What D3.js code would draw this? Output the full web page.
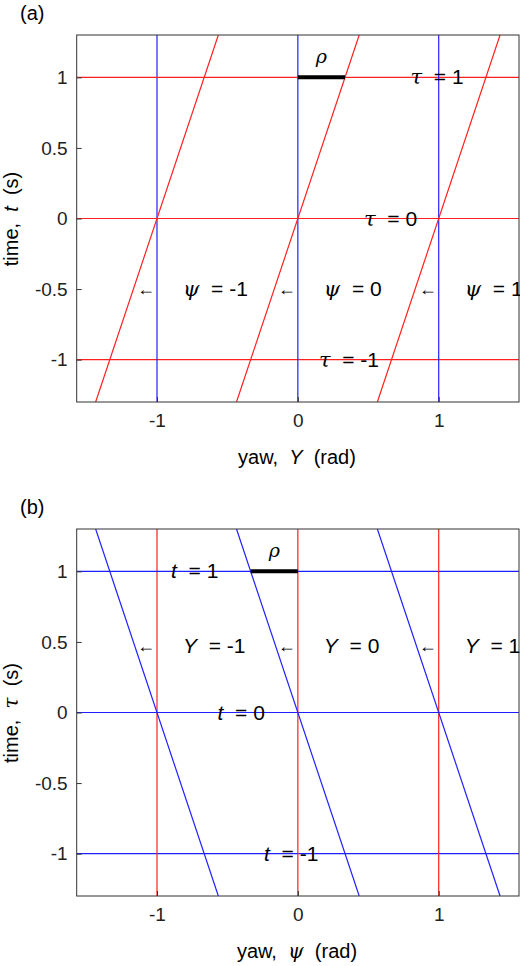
<!DOCTYPE html><html><head><meta charset="utf-8"><script src="https://cdn.jsdelivr.net/npm/d3@7"></script>
<style>body{margin:0;background:#fff}text{font-family:Arial,"Liberation Sans",sans-serif;white-space:pre}.g{font-family:"DejaVu Serif","Liberation Serif",serif;font-style:italic}</style></head><body>
<svg id="c" width="520" height="966"></svg>
<script>
const xTicks=[-1,0,1], yTicks=[-1,-0.5,0,0.5,1];
const gridVals=[-1,0,1];
const rho=0.335;
const xDomain=[-1.57,1.57], yDomain=[-1.3,1.3];
const svg=d3.select("#c");
function panel(oy,label,horizCol,vertCol,slantSign,xl,yl,texts,rhoBar){
  const x=d3.scaleLinear().domain(xDomain).range([76.7,519]);
  const y=d3.scaleLinear().domain(yDomain).range([oy+402,oy+35]);
  const g=svg.append("g");
  const cp="clip"+oy;
  g.append("clipPath").attr("id",cp).append("rect").attr("x",76.7).attr("y",oy+35).attr("width",442.3).attr("height",367);
  const p=g.append("g").attr("clip-path",`url(#${cp})`);
  gridVals.forEach(v=>{
    p.append("line").attr("x1",x(xDomain[0])).attr("x2",x(xDomain[1])).attr("y1",y(v)).attr("y2",y(v)).attr("stroke",horizCol).attr("stroke-width",1.2);
    p.append("line").attr("x1",x(v)).attr("x2",x(v)).attr("y1",y(yDomain[0])).attr("y2",y(yDomain[1])).attr("stroke",vertCol).attr("stroke-width",1.2);
    p.append("line").attr("x1",x(v+slantSign*rho*yDomain[0])).attr("x2",x(v+slantSign*rho*yDomain[1])).attr("y1",y(yDomain[0])).attr("y2",y(yDomain[1])).attr("stroke",horizCol).attr("stroke-width",1.2);
  });
  p.append("line").attr("x1",x(rhoBar[0])).attr("x2",x(rhoBar[1])).attr("y1",y(1)).attr("y2",y(1)).attr("stroke","#000").attr("stroke-width",4);
  g.append("text").attr("class","g").attr("x",x((rhoBar[0]+rhoBar[1])/2)).attr("y",y(1)-14).attr("text-anchor","middle").attr("font-size",19).text("ρ");
  g.append("rect").attr("x",76.7).attr("y",oy+35).attr("width",442.3).attr("height",367).attr("fill","none").attr("stroke","#333");
  const xa=g.append("g").attr("transform",`translate(0,${oy+402})`).call(d3.axisBottom(x).tickValues(xTicks).tickSize(-5).tickPadding(12).tickFormat(d=>String(d)));
  const ya=g.append("g").attr("transform",`translate(76.7,0)`).call(d3.axisLeft(y).tickValues(yTicks).tickSize(-5).tickPadding(9).tickFormat(d=>String(d)));
  [xa,ya].forEach(a=>{a.select(".domain").remove();a.selectAll("text").attr("font-size",19).attr("fill","#222").attr("font-family","Arial,'Liberation Sans',sans-serif");a.selectAll("line").attr("stroke","#333");});
  g.append("text").attr("x",20).attr("y",oy+20).attr("font-size",20).text(label);
  const xt=g.append("text").attr("x",297).attr("y",oy+464).attr("text-anchor","middle").attr("font-size",20);
  xt.append("tspan").text("yaw,  ");xt.append("tspan").attr("class",xl.cls).text(xl.sym);xt.append("tspan").text("  (rad)");
  const yt=g.append("text").attr("transform",`translate(18,${oy+219}) rotate(-90)`).attr("text-anchor","middle").attr("font-size",20);
  yt.append("tspan").text("time,  ");yt.append("tspan").attr("class",yl.cls).text(yl.sym);yt.append("tspan").text("  (s)");
  texts.forEach(t=>{
    if(t.arrow) g.append("text").attr("x",x(t.x)-20).attr("y",y(t.y)+6).attr("font-size",18).attr("font-family","DejaVu Sans,sans-serif").text("←");
    const tx=g.append("text").attr("x",x(t.x)+(t.arrow?26:0)).attr("y",y(t.y)+7).attr("font-size",21);
    tx.append("tspan").attr("class",t.cls).text(t.sym);
    tx.append("tspan").text("  = "+t.v);
  });
}
const aTexts=[
 {x:0.8,y:1,sym:"τ",cls:"g",v:"1"},{x:0.47,y:0,sym:"τ",cls:"g",v:"0"},{x:0.15,y:-1,sym:"τ",cls:"g",v:"-1"},
 {x:-1,y:-0.5,sym:"ψ",cls:"g",v:"-1",arrow:1},{x:0,y:-0.5,sym:"ψ",cls:"g",v:"0",arrow:1},{x:1,y:-0.5,sym:"ψ",cls:"g",v:"1",arrow:1}];
const bTexts=[
 {x:-0.9,y:1,sym:"t",cls:"it",v:"1"},{x:-0.57,y:0,sym:"t",cls:"it",v:"0"},{x:-0.24,y:-1,sym:"t",cls:"it",v:"-1"},
 {x:-1,y:0.47,sym:"Y",cls:"it",v:"-1",arrow:1},{x:0,y:0.47,sym:"Y",cls:"it",v:"0",arrow:1},{x:1,y:0.47,sym:"Y",cls:"it",v:"1",arrow:1}];
panel(0,"(a)","#ff2020","#2020ff",1,{sym:"Y",cls:"it"},{sym:"t",cls:"it"},aTexts,[0,rho]);
panel(494,"(b)","#2020ff","#ff2020",-1,{sym:"ψ",cls:"g"},{sym:"τ",cls:"g"},bTexts,[-rho,0]);
svg.selectAll(".it").attr("font-style","italic");
</script></body></html>
